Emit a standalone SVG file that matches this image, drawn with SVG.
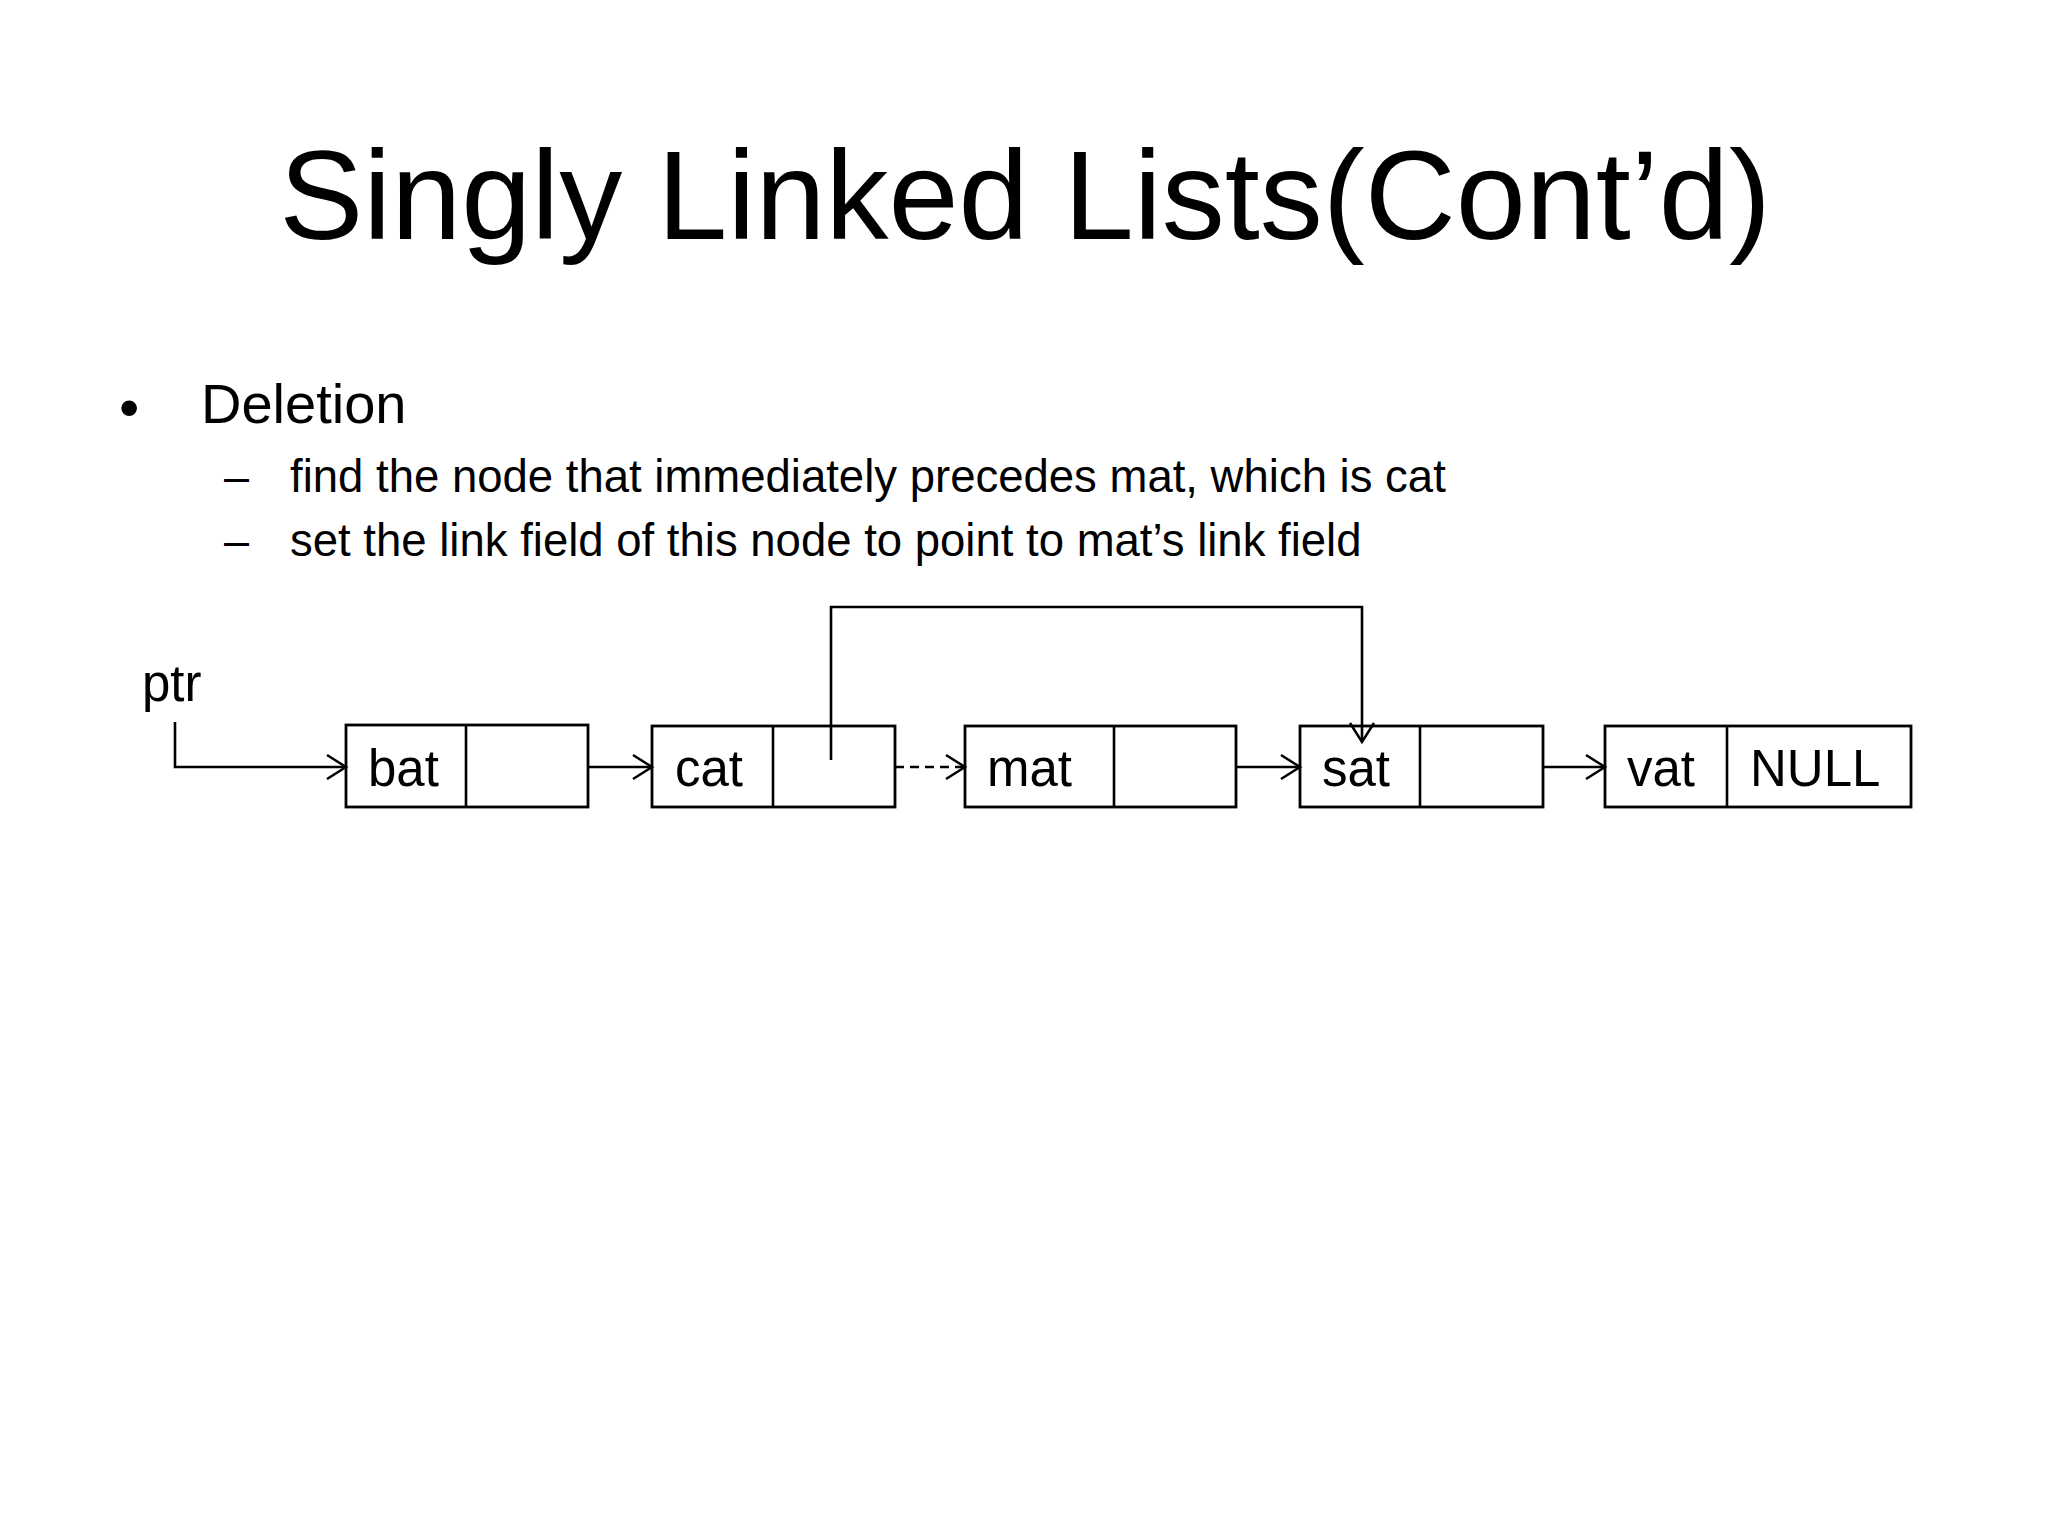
<svg xmlns="http://www.w3.org/2000/svg" width="2048" height="1536" viewBox="0 0 2048 1536">
<style>
text{font-family:"Liberation Sans",Arial,sans-serif;fill:#000}
.box{fill:#fff;stroke:#000;stroke-width:2.8}
.div{stroke:#000;stroke-width:2.6}
.lbl{font-size:51px}
.con{fill:none;stroke:#000;stroke-width:2.6}
.dash{stroke-dasharray:9 6}
</style>
<defs>
<marker id="arr" markerUnits="userSpaceOnUse" markerWidth="24" markerHeight="30" refX="20" refY="13" orient="auto" viewBox="0 0 24 26">
<path d="M1,1 L20,13 L1,25" fill="none" stroke="#000" stroke-width="2.5"/>
</marker>
</defs>
<rect width="2048" height="1536" fill="#fff"/>
<text x="1025" y="239" font-size="126" text-anchor="middle">Singly Linked Lists(Cont’d)</text>
<g id="bullets">
<text x="119" y="427" font-size="58">•</text>
<text x="201" y="423" font-size="56">Deletion</text>
<text x="224" y="492" font-size="45">–</text>
<text x="290" y="492" font-size="45.5">find the node that immediately precedes mat, which is cat</text>
<text x="224" y="556" font-size="45">–</text>
<text x="290" y="556" font-size="45.5">set the link field of this node to point to mat’s link field</text>
</g>
<g id="ptr"><text x="142" y="701" font-size="51">ptr</text></g>
<g id="node-bat">
<rect class="box" x="346" y="725" width="242" height="82"/>
<line class="div" x1="466" y1="725" x2="466" y2="807"/>
<text class="lbl" x="368" y="786">bat</text>
</g>
<g id="node-cat">
<rect class="box" x="652" y="726" width="243" height="81"/>
<line class="div" x1="773" y1="726" x2="773" y2="807"/>
<text class="lbl" x="675" y="786">cat</text>
</g>
<g id="node-mat">
<rect class="box" x="965" y="726" width="271" height="81"/>
<line class="div" x1="1114" y1="726" x2="1114" y2="807"/>
<text class="lbl" x="987" y="786">mat</text>
</g>
<g id="node-sat">
<rect class="box" x="1300" y="726" width="243" height="81"/>
<line class="div" x1="1420" y1="726" x2="1420" y2="807"/>
<text class="lbl" x="1322" y="786">sat</text>
</g>
<g id="node-vat">
<rect class="box" x="1605" y="726" width="306" height="81"/>
<line class="div" x1="1727" y1="726" x2="1727" y2="807"/>
<text class="lbl" x="1627" y="786">vat</text>
<text class="lbl" x="1750" y="786">NULL</text>
</g>
<g id="connectors">
<path class="con" d="M175,722 V767 H346" marker-end="url(#arr)"/>
<path class="con" d="M588,767 H652" marker-end="url(#arr)"/>
<path class="con dash" d="M895,767 H965" marker-end="url(#arr)"/>
<path class="con" d="M1236,767 H1300" marker-end="url(#arr)"/>
<path class="con" d="M1543,767 H1605" marker-end="url(#arr)"/>
<path class="con" d="M831,760 V607 H1362 V742" marker-end="url(#arr)"/>
</g>
</svg>
